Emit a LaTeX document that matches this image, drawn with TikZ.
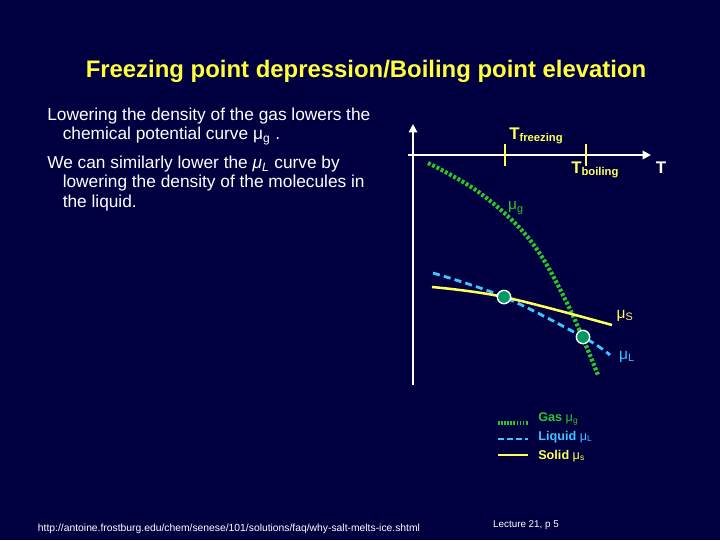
\documentclass[tikz,border=0pt]{standalone}
\usepackage{fontspec}
\setmainfont{Liberation Sans}
\usetikzlibrary{arrows.meta}
\definecolor{bgnavy}{RGB}{0,0,64}
\definecolor{ttlyellow}{RGB}{255,255,60}
\definecolor{solidyellow}{RGB}{255,255,90}
\definecolor{gasgreen}{RGB}{40,200,40}
\definecolor{liqblue}{RGB}{60,200,255}
\tikzset{
  axis/.style={white, line width=1.4pt, -{Triangle[width=6pt,length=6pt]}},
  tick/.style={solidyellow, line width=1.6pt},
  gasline/.style={gasgreen, line width=3pt, dash pattern=on 2pt off 1.4pt},
  liqline/.style={liqblue, line width=2pt, dash pattern=on 5pt off 3pt},
  solline/.style={solidyellow, line width=1.8pt},
  crossing/.style={circle, draw=white, fill=teal!80!green, line width=1pt, minimum size=9.5pt, inner sep=0pt},
  bodytext/.style={white, anchor=north west, align=left, font=\fontsize{12.3}{13.6}\selectfont, inner sep=0pt},
  legendtext/.style={anchor=west, font=\fontsize{9}{10}\selectfont\bfseries, inner sep=0pt}
}
\begin{document}
\begin{tikzpicture}[x=0.025cm,y=-0.025cm]
\fill[bgnavy] (0,0) rectangle (720,540);
\node[ttlyellow, font=\fontsize{17}{19}\selectfont\bfseries] (title) at (366,71) {Freezing point depression/Boiling point elevation};
\node[bodytext] (para1) at (47,108) {Lowering the density of the gas lowers the\\\hspace*{11pt}chemical potential curve μ\textsubscript{g} .};
\node[bodytext] (para2) at (47,156) {We can similarly lower the \textit{μ\textsubscript{L}} curve by\\\hspace*{11pt}lowering the density of the molecules in\\\hspace*{11pt}the liquid.};
\coordinate (ybot) at (413,385);
\coordinate (ytop) at (413,124);
\coordinate (xleft) at (408,155);
\coordinate (xright) at (651,155);
\draw[axis] (ybot) -- (ytop);
\draw[axis] (xleft) -- (xright);
\node[white, font=\fontsize{12}{12}\selectfont\bfseries] (tlabel) at (661,168) {T};
\coordinate (tf) at (505,155);
\coordinate (tb) at (586,155);
\draw[tick] ([yshift=-8]tf) -- ([yshift=8]tf);
\draw[tick] ([yshift=-8]tb) -- ([yshift=8]tb);
\node[solidyellow, font=\fontsize{12}{12}\selectfont\bfseries, anchor=west, inner sep=0pt] (tfreeze) at (509,136) {T\textsubscript{freezing}};
\node[solidyellow, font=\fontsize{12}{12}\selectfont\bfseries, anchor=west, inner sep=0pt] (tboil) at (571,170) {T\textsubscript{boiling}};
\coordinate (g1) at (428,163);
\coordinate (g2) at (480,193);
\coordinate (g3) at (530,240);
\coordinate (g4) at (567,303);
\coordinate (g5) at (598,375);
\draw[gasline] plot[smooth, tension=0.6] coordinates {(g1) (g2) (g3) (g4) (g5)};
\coordinate (l1) at (433,273);
\coordinate (l2) at (504,297);
\coordinate (l3) at (583,337);
\coordinate (l4) at (610,355);
\draw[liqline] plot[smooth, tension=0.6] coordinates {(l1) (l2) (l3) (l4)};
\coordinate (s1) at (432,287);
\coordinate (s2) at (504,297);
\coordinate (s3) at (612,325);
\draw[solline] plot[smooth, tension=0.6] coordinates {(s1) (s2) (s3)};
\node[crossing] (freezept) at (504,297) {};
\node[crossing] (boilpt) at (583,337) {};
\node[gasgreen, font=\fontsize{11}{11}\selectfont] (mug) at (516,208) {μ\textsubscript{g}};
\node[solidyellow, font=\fontsize{11}{11}\selectfont] (mus) at (625,316) {μ\textsubscript{S}};
\node[liqblue, font=\fontsize{11}{11}\selectfont] (mul) at (627,357) {μ\textsubscript{L}};
\coordinate (lg1) at (498,423);
\coordinate (lg2) at (528,423);
\coordinate (ll1) at (498,439);
\coordinate (ll2) at (528,439);
\coordinate (ls1) at (498,455);
\coordinate (ls2) at (528,455);
\draw[gasgreen, line width=2.2pt, dash pattern=on 1.2pt off 1pt] (lg1) -- (lg2);
\draw[liqblue, line width=2pt, dash pattern=on 4pt off 2.5pt] (ll1) -- (ll2);
\draw[solidyellow, line width=2pt] (ls1) -- (ls2);
\node[legendtext, gasgreen] (gaskey) at (538,419) {Gas \mdseries μ\textsubscript{g}};
\node[legendtext, liqblue] (liqkey) at (538,437) {Liquid \mdseries μ\textsubscript{L}};
\node[legendtext, solidyellow] (solkey) at (538,456) {Solid \mdseries μ\textsubscript{s}};
\node[white, font=\fontsize{7.35}{8}\selectfont] (url) at (229,529) {http://antoine.frostburg.edu/chem/senese/101/solutions/faq/why-salt-melts-ice.shtml};
\node[white, font=\fontsize{7}{8}\selectfont] (lecture) at (526,525) {Lecture 21, p 5};
\end{tikzpicture}
\end{document}
